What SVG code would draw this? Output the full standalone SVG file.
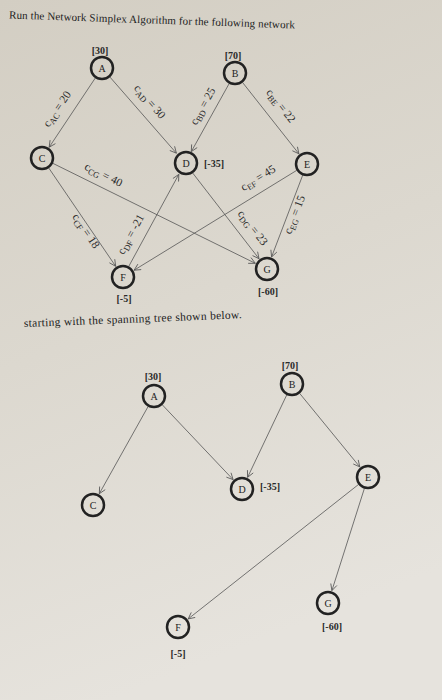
<svg xmlns="http://www.w3.org/2000/svg" width="442" height="700" viewBox="0 0 442 700">
<defs>
<linearGradient id="paper" x1="0" y1="0" x2="0.25" y2="1">
<stop offset="0" stop-color="#d3cec3"/>
<stop offset="0.5" stop-color="#dcd8cf"/>
<stop offset="1" stop-color="#e6e3dd"/>
</linearGradient>
<marker id="arr" viewBox="0 0 10 10" refX="9" refY="5" markerWidth="8" markerHeight="8" orient="auto" markerUnits="userSpaceOnUse">
<path d="M1,1 L9,5 L1,9" fill="none" stroke="#555" stroke-width="1"/>
</marker>
<style>
text{font-family:"Liberation Serif","Times New Roman",serif;fill:#222}
.title{font-size:11px}
.node circle{fill:none;stroke:#222;stroke-width:2.5}
.node text{font-size:10px;text-anchor:middle}
.sup{font-size:11.5px;text-anchor:middle;font-weight:bold;fill:#2a2a2a}
.edge line{stroke:#555;stroke-width:0.8;marker-end:url(#arr)}
.lbl{font-size:11.5px;text-anchor:middle;fill:#2a2a2a}
.sub{font-size:8.5px}
</style>
</defs>
<rect width="442" height="700" fill="url(#paper)"/>
<text class="title" x="9" y="18.5" textLength="286" transform="rotate(2 9 18.5)">Run the Network Simplex Algorithm for the following network</text>
<text class="title" x="24" y="327" textLength="218" transform="rotate(-2.3 24 327)" style="font-size:11.5px">starting with the spanning tree shown below.</text>

<g id="top-edges" class="edge">
<line x1="95.3" y1="78" x2="49.2" y2="147.2"/>
<line x1="109.9" y1="77" x2="176.4" y2="153.2"/>
<line x1="229.2" y1="83.5" x2="191.3" y2="151.6"/>
<line x1="242.5" y1="82.4" x2="298.9" y2="153.8"/>
<line x1="52.8" y1="163.3" x2="255.3" y2="263.3"/>
<line x1="48.7" y1="167.9" x2="115.7" y2="266.3"/>
<line x1="128.7" y1="266.5" x2="178.8" y2="174.4"/>
<line x1="296.8" y1="170.3" x2="134.1" y2="270.2"/>
<line x1="192.3" y1="172.5" x2="259" y2="258.7"/>
<line x1="302.7" y1="175.2" x2="271.6" y2="256.9"/>
</g>
<g id="top-labels">
<text class="lbl" transform="translate(60 111) rotate(-56)">c<tspan class="sub" dy="2.5">AC</tspan><tspan dy="-2.5"> = 20</tspan></text>
<text class="lbl" transform="translate(147 104) rotate(49)">c<tspan class="sub" dy="2.5">AD</tspan><tspan dy="-2.5"> = 30</tspan></text>
<text class="lbl" transform="translate(206 108) rotate(-61)">c<tspan class="sub" dy="2.5">BD</tspan><tspan dy="-2.5"> = 25</tspan></text>
<text class="lbl" transform="translate(278 108) rotate(51.6)">c<tspan class="sub" dy="2.5">BE</tspan><tspan dy="-2.5"> = 22</tspan></text>
<text class="lbl" transform="translate(102 178) rotate(26)">c<tspan class="sub" dy="2.5">CG</tspan><tspan dy="-2.5"> = 40</tspan></text>
<text class="lbl" transform="translate(83 233) rotate(55.8)">c<tspan class="sub" dy="2.5">CF</tspan><tspan dy="-2.5"> = 18</tspan></text>
<text class="lbl" transform="translate(134 236) rotate(-61.5)">c<tspan class="sub" dy="2.5">DF</tspan><tspan dy="-2.5"> = -21</tspan></text>
<text class="lbl" transform="translate(260 181) rotate(-31.5)">c<tspan class="sub" dy="2.5">EF</tspan><tspan dy="-2.5"> = 45</tspan></text>
<text class="lbl" transform="translate(250 230) rotate(52)">c<tspan class="sub" dy="2.5">DG</tspan><tspan dy="-2.5"> = 23</tspan></text>
<text class="lbl" transform="translate(298 216) rotate(-69)">c<tspan class="sub" dy="2.5">EG</tspan><tspan dy="-2.5"> = 15</tspan></text>
</g>

<g id="top-A" class="node"><circle cx="102" cy="68" r="11"/><text x="102" y="71.5">A</text><text class="sup" x="100" y="54">[30]</text></g>
<g id="top-B" class="node"><circle cx="235" cy="73" r="11"/><text x="235" y="76.5">B</text><text class="sup" x="233" y="59">[70]</text></g>
<g id="top-C" class="node"><circle cx="42" cy="158" r="11"/><text x="42" y="161.5">C</text></g>
<g id="top-D" class="node"><circle cx="186" cy="163" r="11"/><text x="186" y="166.5">D</text><text class="sup" x="214" y="167">[-35]</text></g>
<g id="top-E" class="node"><circle cx="307" cy="164" r="11"/><text x="307" y="167.5">E</text></g>
<g id="top-F" class="node"><circle cx="123" cy="277" r="11"/><text x="123" y="280.5">F</text><text class="sup" x="124" y="302">[-5]</text></g>
<g id="top-G" class="node"><circle cx="267" cy="269" r="11"/><text x="267" y="272.5">G</text><text class="sup" x="268" y="295">[-60]</text></g>

<g id="tree-edges" class="edge">
<line x1="148.1" y1="406.5" x2="99.3" y2="493.7"/>
<line x1="162.2" y1="404.7" x2="233.1" y2="479.6"/>
<line x1="286.8" y1="394.8" x2="247.6" y2="477.3"/>
<line x1="299.6" y1="393.3" x2="359.8" y2="466.9"/>
<line x1="358.6" y1="484.4" x2="188.2" y2="618.9"/>
<line x1="364.4" y1="488.4" x2="331.9" y2="590.6"/>
</g>

<g id="tree-A" class="node"><circle cx="154" cy="396" r="11"/><text x="154" y="399.5">A</text><text class="sup" x="153" y="380">[30]</text></g>
<g id="tree-B" class="node"><circle cx="292" cy="384" r="11"/><text x="292" y="387.5">B</text><text class="sup" x="290" y="369">[70]</text></g>
<g id="tree-C" class="node"><circle cx="93" cy="505" r="11"/><text x="93" y="508.5">C</text></g>
<g id="tree-D" class="node"><circle cx="242" cy="489" r="11"/><text x="242" y="492.5">D</text><text class="sup" x="270" y="490">[-35]</text></g>
<g id="tree-E" class="node"><circle cx="368" cy="477" r="11"/><text x="368" y="480.5">E</text></g>
<g id="tree-F" class="node"><circle cx="178" cy="627" r="11"/><text x="178" y="630.5">F</text><text class="sup" x="178" y="657">[-5]</text></g>
<g id="tree-G" class="node"><circle cx="328" cy="603" r="11"/><text x="328" y="606.5">G</text><text class="sup" x="332" y="630">[-60]</text></g>
</svg>
